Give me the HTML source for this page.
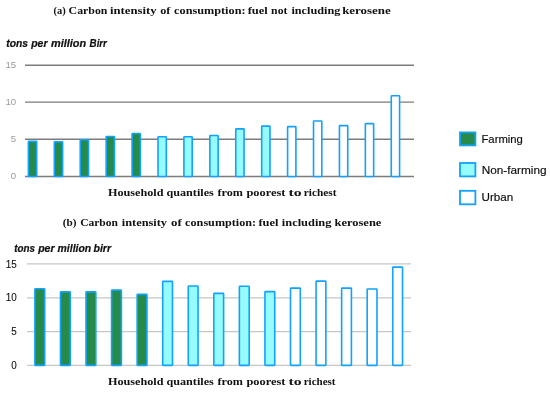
<!DOCTYPE html>
<html><head><meta charset="utf-8"><style>
html,body{margin:0;padding:0;background:#fff;}
body{width:550px;height:394px;overflow:hidden;}
svg{display:block;}
</style></head><body>
<svg width="550" height="394" viewBox="0 0 550 394">
<rect width="550" height="394" fill="#fff"/>
<text y="14.2" font-family="'Liberation Serif', serif" font-weight="bold" font-style="normal" font-size="11.1" fill="#111" xml:space="preserve"><tspan x="53.49" textLength="12.14" lengthAdjust="spacingAndGlyphs">(a)</tspan> <tspan x="68.64" textLength="38.78" lengthAdjust="spacingAndGlyphs">Carbon</tspan> <tspan x="109.91" textLength="46.64" lengthAdjust="spacingAndGlyphs">intensity</tspan> <tspan x="160.26" textLength="10.18" lengthAdjust="spacingAndGlyphs">of</tspan> <tspan x="174.07" textLength="71.49" lengthAdjust="spacingAndGlyphs">consumption:</tspan> <tspan x="247.68" textLength="20.13" lengthAdjust="spacingAndGlyphs">fuel</tspan> <tspan x="271.13" textLength="16.33" lengthAdjust="spacingAndGlyphs">not</tspan> <tspan x="291.42" textLength="48.98" lengthAdjust="spacingAndGlyphs">including</tspan> <tspan x="342.18" textLength="48.60" lengthAdjust="spacingAndGlyphs">kerosene</tspan></text>
<text y="46.6" font-family="'Liberation Sans', sans-serif" font-weight="bold" font-style="italic" font-size="10.8" fill="#111" stroke="#111" stroke-width="0.22" xml:space="preserve"><tspan x="6.32" textLength="21.74" lengthAdjust="spacingAndGlyphs">tons</tspan> <tspan x="31.24" textLength="16.27" lengthAdjust="spacingAndGlyphs">per</tspan> <tspan x="51.04" textLength="35.12" lengthAdjust="spacingAndGlyphs">million</tspan> <tspan x="89.62" textLength="17.29" lengthAdjust="spacingAndGlyphs">Birr</tspan></text>
<line x1="25" x2="414" y1="65.2" y2="65.2" stroke="#7c7c7c" stroke-width="1.4"/><line x1="25" x2="414" y1="102.1" y2="102.1" stroke="#7c7c7c" stroke-width="1.4"/><line x1="25" x2="414" y1="139.3" y2="139.3" stroke="#7c7c7c" stroke-width="1.4"/><line x1="25" x2="414" y1="176.5" y2="176.5" stroke="#7c7c7c" stroke-width="1.4"/>
<text x="5.50" y="67.9" textLength="10.7" lengthAdjust="spacingAndGlyphs" font-family="'Liberation Sans', sans-serif" font-size="9.7" fill="#9a9a9a">15</text><text x="5.50" y="104.8" textLength="10.7" lengthAdjust="spacingAndGlyphs" font-family="'Liberation Sans', sans-serif" font-size="9.7" fill="#9a9a9a">10</text><text x="10.85" y="142.0" textLength="5.35" lengthAdjust="spacingAndGlyphs" font-family="'Liberation Sans', sans-serif" font-size="9.7" fill="#9a9a9a">5</text><text x="10.85" y="179.2" textLength="5.35" lengthAdjust="spacingAndGlyphs" font-family="'Liberation Sans', sans-serif" font-size="9.7" fill="#9a9a9a">0</text>
<rect x="28.40" y="141.40" width="8.30" height="35.10" fill="#258a4a" stroke="#12a2fc" stroke-width="1.6" rx="0.6"/>
<rect x="54.32" y="141.90" width="8.30" height="34.60" fill="#258a4a" stroke="#12a2fc" stroke-width="1.6" rx="0.6"/>
<rect x="80.24" y="139.80" width="8.30" height="36.70" fill="#258a4a" stroke="#12a2fc" stroke-width="1.6" rx="0.6"/>
<rect x="106.16" y="136.50" width="8.30" height="40.00" fill="#258a4a" stroke="#12a2fc" stroke-width="1.6" rx="0.6"/>
<rect x="132.08" y="133.50" width="8.30" height="43.00" fill="#258a4a" stroke="#12a2fc" stroke-width="1.6" rx="0.6"/>
<rect x="158.00" y="136.80" width="8.30" height="39.70" fill="#96fbfc" stroke="#12a2fc" stroke-width="1.6" rx="0.6"/>
<rect x="183.92" y="136.80" width="8.30" height="39.70" fill="#96fbfc" stroke="#12a2fc" stroke-width="1.6" rx="0.6"/>
<rect x="209.84" y="135.50" width="8.30" height="41.00" fill="#96fbfc" stroke="#12a2fc" stroke-width="1.6" rx="0.6"/>
<rect x="235.76" y="128.90" width="8.30" height="47.60" fill="#96fbfc" stroke="#12a2fc" stroke-width="1.6" rx="0.6"/>
<rect x="261.68" y="126.10" width="8.30" height="50.40" fill="#96fbfc" stroke="#12a2fc" stroke-width="1.6" rx="0.6"/>
<rect x="287.60" y="126.60" width="8.30" height="49.90" fill="#ffffff" stroke="#12a2fc" stroke-width="1.6" rx="0.6"/>
<rect x="313.52" y="121.00" width="8.30" height="55.50" fill="#ffffff" stroke="#12a2fc" stroke-width="1.6" rx="0.6"/>
<rect x="339.44" y="125.60" width="8.30" height="50.90" fill="#ffffff" stroke="#12a2fc" stroke-width="1.6" rx="0.6"/>
<rect x="365.36" y="123.60" width="8.30" height="52.90" fill="#ffffff" stroke="#12a2fc" stroke-width="1.6" rx="0.6"/>
<rect x="391.28" y="95.80" width="8.30" height="80.70" fill="#ffffff" stroke="#12a2fc" stroke-width="1.6" rx="0.6"/>
<text y="195.8" font-family="'Liberation Serif', serif" font-weight="bold" font-style="normal" font-size="11.1" fill="#111" xml:space="preserve"><tspan x="107.96" textLength="55.52" lengthAdjust="spacingAndGlyphs">Household</tspan> <tspan x="166.50" textLength="47.29" lengthAdjust="spacingAndGlyphs">quantiles</tspan> <tspan x="217.52" textLength="25.49" lengthAdjust="spacingAndGlyphs">from</tspan> <tspan x="246.47" textLength="38.95" lengthAdjust="spacingAndGlyphs">poorest</tspan> <tspan x="288.44" textLength="13.12" lengthAdjust="spacingAndGlyphs">to</tspan> <tspan x="303.79" textLength="32.68" lengthAdjust="spacingAndGlyphs">richest</tspan></text>
<rect x="460.0" y="132.4" width="15.4" height="13.0" fill="#258a4a" stroke="#12a2fc" stroke-width="1.8"/><rect x="460.0" y="163.0" width="15.4" height="13.4" fill="#96fbfc" stroke="#12a2fc" stroke-width="1.8"/><rect x="460.0" y="190.8" width="15.4" height="13.5" fill="#ffffff" stroke="#12a2fc" stroke-width="1.8"/>
<text y="142.9" font-family="'Liberation Sans', sans-serif" font-weight="normal" font-style="normal" font-size="10.8" fill="#0d0d0d" stroke="#0d0d0d" stroke-width="0.15" xml:space="preserve"><tspan x="481.47" textLength="41.43" lengthAdjust="spacingAndGlyphs">Farming</tspan></text>
<text y="173.8" font-family="'Liberation Sans', sans-serif" font-weight="normal" font-style="normal" font-size="10.8" fill="#0d0d0d" stroke="#0d0d0d" stroke-width="0.15" xml:space="preserve"><tspan x="481.70" textLength="64.90" lengthAdjust="spacingAndGlyphs">Non-farming</tspan></text>
<text y="200.8" font-family="'Liberation Sans', sans-serif" font-weight="normal" font-style="normal" font-size="10.8" fill="#0d0d0d" stroke="#0d0d0d" stroke-width="0.15" xml:space="preserve"><tspan x="481.46" textLength="31.79" lengthAdjust="spacingAndGlyphs">Urban</tspan></text>
<text y="225.7" font-family="'Liberation Serif', serif" font-weight="bold" font-style="normal" font-size="11.1" fill="#111" xml:space="preserve"><tspan x="62.86" textLength="13.70" lengthAdjust="spacingAndGlyphs">(b)</tspan> <tspan x="80.18" textLength="37.76" lengthAdjust="spacingAndGlyphs">Carbon</tspan> <tspan x="121.81" textLength="45.25" lengthAdjust="spacingAndGlyphs">intensity</tspan> <tspan x="170.92" textLength="10.80" lengthAdjust="spacingAndGlyphs">of</tspan> <tspan x="185.13" textLength="71.00" lengthAdjust="spacingAndGlyphs">consumption:</tspan> <tspan x="258.49" textLength="19.99" lengthAdjust="spacingAndGlyphs">fuel</tspan> <tspan x="281.79" textLength="49.71" lengthAdjust="spacingAndGlyphs">including</tspan> <tspan x="334.47" textLength="46.92" lengthAdjust="spacingAndGlyphs">kerosene</tspan></text>
<text y="251.5" font-family="'Liberation Sans', sans-serif" font-weight="bold" font-style="italic" font-size="10.0" fill="#111" stroke="#111" stroke-width="0.22" xml:space="preserve"><tspan x="14.36" textLength="20.65" lengthAdjust="spacingAndGlyphs">tons</tspan> <tspan x="38.20" textLength="16.40" lengthAdjust="spacingAndGlyphs">per</tspan> <tspan x="57.64" textLength="33.52" lengthAdjust="spacingAndGlyphs">million</tspan> <tspan x="93.53" textLength="17.56" lengthAdjust="spacingAndGlyphs">birr</tspan></text>
<line x1="27" x2="411" y1="263.9" y2="263.9" stroke="#c6c6c6" stroke-width="1.3"/><line x1="27" x2="411" y1="297.8" y2="297.8" stroke="#c6c6c6" stroke-width="1.3"/><line x1="27" x2="411" y1="331.6" y2="331.6" stroke="#c6c6c6" stroke-width="1.3"/><line x1="27" x2="411" y1="365.4" y2="365.4" stroke="#c6c6c6" stroke-width="1.3"/>
<text x="5.70" y="267.5" textLength="11.0" lengthAdjust="spacingAndGlyphs" font-family="'Liberation Sans', sans-serif" font-size="10.2" fill="#111" stroke="#111" stroke-width="0.1">15</text><text x="5.70" y="301.4" textLength="11.0" lengthAdjust="spacingAndGlyphs" font-family="'Liberation Sans', sans-serif" font-size="10.2" fill="#111" stroke="#111" stroke-width="0.1">10</text><text x="11.20" y="335.2" textLength="5.5" lengthAdjust="spacingAndGlyphs" font-family="'Liberation Sans', sans-serif" font-size="10.2" fill="#111" stroke="#111" stroke-width="0.1">5</text><text x="11.20" y="369.1" textLength="5.5" lengthAdjust="spacingAndGlyphs" font-family="'Liberation Sans', sans-serif" font-size="10.2" fill="#111" stroke="#111" stroke-width="0.1">0</text>
<rect x="34.90" y="288.80" width="9.80" height="76.60" fill="#258a4a" stroke="#12a2fc" stroke-width="1.6" rx="0.6"/>
<rect x="60.46" y="291.90" width="9.80" height="73.50" fill="#258a4a" stroke="#12a2fc" stroke-width="1.6" rx="0.6"/>
<rect x="86.02" y="291.90" width="9.80" height="73.50" fill="#258a4a" stroke="#12a2fc" stroke-width="1.6" rx="0.6"/>
<rect x="111.58" y="290.10" width="9.80" height="75.30" fill="#258a4a" stroke="#12a2fc" stroke-width="1.6" rx="0.6"/>
<rect x="137.14" y="294.40" width="9.80" height="71.00" fill="#258a4a" stroke="#12a2fc" stroke-width="1.6" rx="0.6"/>
<rect x="162.70" y="281.40" width="9.80" height="84.00" fill="#96fbfc" stroke="#12a2fc" stroke-width="1.6" rx="0.6"/>
<rect x="188.26" y="286.00" width="9.80" height="79.40" fill="#96fbfc" stroke="#12a2fc" stroke-width="1.6" rx="0.6"/>
<rect x="213.82" y="293.40" width="9.80" height="72.00" fill="#96fbfc" stroke="#12a2fc" stroke-width="1.6" rx="0.6"/>
<rect x="239.38" y="286.30" width="9.80" height="79.10" fill="#96fbfc" stroke="#12a2fc" stroke-width="1.6" rx="0.6"/>
<rect x="264.94" y="291.60" width="9.80" height="73.80" fill="#96fbfc" stroke="#12a2fc" stroke-width="1.6" rx="0.6"/>
<rect x="290.50" y="288.10" width="9.80" height="77.30" fill="#ffffff" stroke="#12a2fc" stroke-width="1.6" rx="0.6"/>
<rect x="316.06" y="281.10" width="9.80" height="84.30" fill="#ffffff" stroke="#12a2fc" stroke-width="1.6" rx="0.6"/>
<rect x="341.62" y="288.10" width="9.80" height="77.30" fill="#ffffff" stroke="#12a2fc" stroke-width="1.6" rx="0.6"/>
<rect x="367.18" y="289.00" width="9.80" height="76.40" fill="#ffffff" stroke="#12a2fc" stroke-width="1.6" rx="0.6"/>
<rect x="392.74" y="267.10" width="9.80" height="98.30" fill="#ffffff" stroke="#12a2fc" stroke-width="1.6" rx="0.6"/>
<text y="385.4" font-family="'Liberation Serif', serif" font-weight="bold" font-style="normal" font-size="11.1" fill="#111" xml:space="preserve"><tspan x="107.96" textLength="55.52" lengthAdjust="spacingAndGlyphs">Household</tspan> <tspan x="166.50" textLength="47.29" lengthAdjust="spacingAndGlyphs">quantiles</tspan> <tspan x="217.52" textLength="25.49" lengthAdjust="spacingAndGlyphs">from</tspan> <tspan x="246.47" textLength="38.95" lengthAdjust="spacingAndGlyphs">poorest</tspan> <tspan x="288.44" textLength="13.12" lengthAdjust="spacingAndGlyphs">to</tspan> <tspan x="303.70" textLength="31.79" lengthAdjust="spacingAndGlyphs">richest</tspan></text>
</svg>
</body></html>
